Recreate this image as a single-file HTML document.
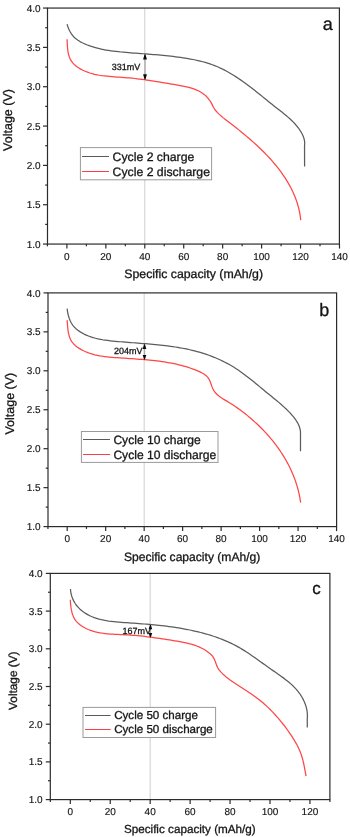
<!DOCTYPE html>
<html><head><meta charset="utf-8"><style>
html,body{margin:0;padding:0;background:#fff;}
svg text{stroke:#151515;stroke-width:0.3px;}
svg text.t{stroke-width:0.15px;}
svg{display:block;font-family:"Liberation Sans", sans-serif;-webkit-font-smoothing:antialiased;text-rendering:geometricPrecision;will-change:transform;}
</style></head><body>
<svg width="350" height="837" viewBox="0 0 350 837">
<rect width="350" height="837" fill="#fff"/>
<line x1="144.78" y1="8.06" x2="144.78" y2="244.06" stroke="#cfcfcf" stroke-width="1"/>
<path d="M67.02,24.18 L67.81,26.55 L68.75,28.90 L69.83,31.19 L71.09,33.36 L72.52,35.38 L74.15,37.21 L75.96,38.85 L77.93,40.30 L80.02,41.59 L82.22,42.75 L84.49,43.80 L86.80,44.76 L89.14,45.64 L91.49,46.44 L93.87,47.19 L96.27,47.86 L98.69,48.48 L101.12,49.04 L103.56,49.55 L106.02,50.02 L108.49,50.44 L110.96,50.81 L113.45,51.15 L115.95,51.46 L118.44,51.74 L120.95,52.00 L123.45,52.23 L125.96,52.44 L128.46,52.64 L130.97,52.84 L133.47,53.02 L135.96,53.20 L138.45,53.39 L140.94,53.57 L143.43,53.75 L145.91,53.93 L148.38,54.12 L150.86,54.31 L153.33,54.51 L155.80,54.72 L158.28,54.93 L160.75,55.15 L163.22,55.39 L165.69,55.63 L168.16,55.89 L170.63,56.16 L173.10,56.45 L175.57,56.76 L178.05,57.09 L180.53,57.43 L183.01,57.80 L185.49,58.18 L187.98,58.59 L190.46,59.03 L192.94,59.50 L195.42,60.00 L197.88,60.54 L200.33,61.12 L202.77,61.74 L205.19,62.41 L207.59,63.12 L209.96,63.89 L212.31,64.72 L214.62,65.60 L216.91,66.53 L219.17,67.52 L221.41,68.56 L223.62,69.65 L225.80,70.79 L227.97,71.97 L230.11,73.20 L232.23,74.46 L234.34,75.76 L236.42,77.10 L238.49,78.46 L240.55,79.86 L242.59,81.29 L244.62,82.75 L246.63,84.22 L248.64,85.72 L250.63,87.24 L252.62,88.78 L254.60,90.33 L256.58,91.89 L258.55,93.46 L260.51,95.04 L262.48,96.63 L264.44,98.22 L266.40,99.81 L268.37,101.40 L270.34,102.99 L272.31,104.57 L274.29,106.14 L276.27,107.70 L278.26,109.25 L280.24,110.80 L282.21,112.36 L284.17,113.92 L286.09,115.51 L287.99,117.12 L289.84,118.76 L291.64,120.45 L293.38,122.18 L295.06,123.97 L296.66,125.82 L298.18,127.74 L299.61,129.73 L300.95,131.81 L302.16,133.98 L303.20,136.23 L304.01,138.56 L304.54,140.97 L304.73,143.46 L304.53,146.02 L304.60,166.60" fill="none" stroke="#5c5c5c" stroke-width="1.25" stroke-linejoin="round" stroke-linecap="butt"/>
<path d="M67.10,39.20 L67.19,41.61 L67.29,44.12 L67.44,46.69 L67.67,49.28 L68.02,51.86 L68.54,54.37 L69.25,56.79 L70.21,59.06 L71.44,61.16 L72.92,63.08 L74.63,64.82 L76.51,66.41 L78.55,67.83 L80.70,69.12 L82.92,70.26 L85.19,71.29 L87.51,72.19 L89.85,72.98 L92.23,73.68 L94.64,74.28 L97.08,74.80 L99.54,75.25 L102.02,75.63 L104.52,75.95 L107.03,76.23 L109.55,76.46 L112.07,76.67 L114.60,76.86 L117.13,77.03 L119.66,77.20 L122.17,77.37 L124.68,77.56 L127.18,77.76 L129.66,77.99 L132.13,78.24 L134.59,78.50 L137.05,78.79 L139.50,79.09 L141.94,79.40 L144.38,79.73 L146.82,80.07 L149.26,80.43 L151.69,80.80 L154.13,81.18 L156.58,81.56 L159.03,81.96 L161.48,82.37 L163.95,82.78 L166.42,83.20 L168.90,83.62 L171.40,84.05 L173.91,84.49 L176.43,84.92 L178.97,85.36 L181.50,85.82 L184.03,86.32 L186.53,86.86 L189.01,87.47 L191.43,88.15 L193.81,88.93 L196.11,89.81 L198.34,90.80 L200.48,91.94 L202.52,93.21 L204.45,94.65 L206.25,96.27 L207.92,98.06 L209.45,100.03 L210.82,102.13 L212.03,104.35 L213.16,106.62 L214.41,108.77 L215.86,110.77 L217.49,112.62 L219.25,114.37 L221.12,116.03 L223.06,117.62 L225.04,119.17 L227.03,120.70 L229.00,122.23 L230.97,123.75 L232.92,125.28 L234.87,126.81 L236.80,128.34 L238.73,129.87 L240.65,131.42 L242.55,132.97 L244.45,134.54 L246.34,136.12 L248.22,137.71 L250.09,139.33 L251.96,140.96 L253.81,142.61 L255.66,144.29 L257.50,145.99 L259.33,147.71 L261.14,149.45 L262.94,151.22 L264.72,153.02 L266.48,154.83 L268.22,156.67 L269.94,158.53 L271.63,160.42 L273.29,162.33 L274.93,164.26 L276.53,166.21 L278.11,168.19 L279.64,170.19 L281.14,172.22 L282.61,174.27 L284.03,176.34 L285.41,178.43 L286.74,180.55 L288.03,182.69 L289.27,184.86 L290.46,187.05 L291.59,189.26 L292.68,191.49 L293.70,193.75 L294.67,196.03 L295.58,198.33 L296.42,200.66 L297.21,203.01 L297.92,205.38 L298.57,207.78 L299.15,210.20 L299.66,212.64 L300.09,215.11 L300.45,217.59 L300.73,220.11" fill="none" stroke="#ff4545" stroke-width="1.25" stroke-linejoin="round" stroke-linecap="butt"/>
<rect x="47.50" y="8.06" width="291.90" height="236.00" fill="none" stroke="#2b2b2b" stroke-width="1.2"/>
<line x1="43.00" y1="244.06" x2="47.50" y2="244.06" stroke="#2b2b2b" stroke-width="1.2"/>
<text x="40.60" y="247.66" text-anchor="end" font-size="10" fill="#151515" class="t">1.0</text>
<line x1="45.20" y1="224.39" x2="47.50" y2="224.39" stroke="#2b2b2b" stroke-width="1.2"/>
<line x1="43.00" y1="204.73" x2="47.50" y2="204.73" stroke="#2b2b2b" stroke-width="1.2"/>
<text x="40.60" y="208.33" text-anchor="end" font-size="10" fill="#151515" class="t">1.5</text>
<line x1="45.20" y1="185.06" x2="47.50" y2="185.06" stroke="#2b2b2b" stroke-width="1.2"/>
<line x1="43.00" y1="165.39" x2="47.50" y2="165.39" stroke="#2b2b2b" stroke-width="1.2"/>
<text x="40.60" y="168.99" text-anchor="end" font-size="10" fill="#151515" class="t">2.0</text>
<line x1="45.20" y1="145.73" x2="47.50" y2="145.73" stroke="#2b2b2b" stroke-width="1.2"/>
<line x1="43.00" y1="126.06" x2="47.50" y2="126.06" stroke="#2b2b2b" stroke-width="1.2"/>
<text x="40.60" y="129.66" text-anchor="end" font-size="10" fill="#151515" class="t">2.5</text>
<line x1="45.20" y1="106.39" x2="47.50" y2="106.39" stroke="#2b2b2b" stroke-width="1.2"/>
<line x1="43.00" y1="86.73" x2="47.50" y2="86.73" stroke="#2b2b2b" stroke-width="1.2"/>
<text x="40.60" y="90.33" text-anchor="end" font-size="10" fill="#151515" class="t">3.0</text>
<line x1="45.20" y1="67.06" x2="47.50" y2="67.06" stroke="#2b2b2b" stroke-width="1.2"/>
<line x1="43.00" y1="47.39" x2="47.50" y2="47.39" stroke="#2b2b2b" stroke-width="1.2"/>
<text x="40.60" y="50.99" text-anchor="end" font-size="10" fill="#151515" class="t">3.5</text>
<line x1="45.20" y1="27.73" x2="47.50" y2="27.73" stroke="#2b2b2b" stroke-width="1.2"/>
<line x1="43.00" y1="8.06" x2="47.50" y2="8.06" stroke="#2b2b2b" stroke-width="1.2"/>
<text x="40.60" y="11.66" text-anchor="end" font-size="10" fill="#151515" class="t">4.0</text>
<line x1="47.43" y1="244.06" x2="47.43" y2="246.36" stroke="#2b2b2b" stroke-width="1.2"/>
<line x1="66.90" y1="244.06" x2="66.90" y2="248.56" stroke="#2b2b2b" stroke-width="1.2"/>
<text x="66.90" y="260.00" text-anchor="middle" font-size="10" fill="#151515" class="t">0</text>
<line x1="86.37" y1="244.06" x2="86.37" y2="246.36" stroke="#2b2b2b" stroke-width="1.2"/>
<line x1="105.84" y1="244.06" x2="105.84" y2="248.56" stroke="#2b2b2b" stroke-width="1.2"/>
<text x="105.84" y="260.00" text-anchor="middle" font-size="10" fill="#151515" class="t">20</text>
<line x1="125.31" y1="244.06" x2="125.31" y2="246.36" stroke="#2b2b2b" stroke-width="1.2"/>
<line x1="144.78" y1="244.06" x2="144.78" y2="248.56" stroke="#2b2b2b" stroke-width="1.2"/>
<text x="144.78" y="260.00" text-anchor="middle" font-size="10" fill="#151515" class="t">40</text>
<line x1="164.25" y1="244.06" x2="164.25" y2="246.36" stroke="#2b2b2b" stroke-width="1.2"/>
<line x1="183.72" y1="244.06" x2="183.72" y2="248.56" stroke="#2b2b2b" stroke-width="1.2"/>
<text x="183.72" y="260.00" text-anchor="middle" font-size="10" fill="#151515" class="t">60</text>
<line x1="203.19" y1="244.06" x2="203.19" y2="246.36" stroke="#2b2b2b" stroke-width="1.2"/>
<line x1="222.66" y1="244.06" x2="222.66" y2="248.56" stroke="#2b2b2b" stroke-width="1.2"/>
<text x="222.66" y="260.00" text-anchor="middle" font-size="10" fill="#151515" class="t">80</text>
<line x1="242.13" y1="244.06" x2="242.13" y2="246.36" stroke="#2b2b2b" stroke-width="1.2"/>
<line x1="261.60" y1="244.06" x2="261.60" y2="248.56" stroke="#2b2b2b" stroke-width="1.2"/>
<text x="261.60" y="260.00" text-anchor="middle" font-size="10" fill="#151515" class="t">100</text>
<line x1="281.07" y1="244.06" x2="281.07" y2="246.36" stroke="#2b2b2b" stroke-width="1.2"/>
<line x1="300.54" y1="244.06" x2="300.54" y2="248.56" stroke="#2b2b2b" stroke-width="1.2"/>
<text x="300.54" y="260.00" text-anchor="middle" font-size="10" fill="#151515" class="t">120</text>
<line x1="320.01" y1="244.06" x2="320.01" y2="246.36" stroke="#2b2b2b" stroke-width="1.2"/>
<line x1="339.48" y1="244.06" x2="339.48" y2="248.56" stroke="#2b2b2b" stroke-width="1.2"/>
<text x="339.48" y="260.00" text-anchor="middle" font-size="10" fill="#151515" class="t">140</text>
<text x="124.30" y="278.40" font-size="12.3" fill="#151515">Specific capacity (mAh/g)</text>
<text transform="translate(12.40,120.00) rotate(-90)" text-anchor="middle" font-size="12.5" fill="#151515">Voltage (V)</text>
<text x="322.80" y="30.30" font-size="18" fill="#151515">a</text>
<rect x="80.40" y="147.60" width="131.20" height="32.20" fill="#fff" stroke="#9a9a9a" stroke-width="1"/>
<line x1="82.00" y1="156.50" x2="109.00" y2="156.50" stroke="#5a5a5a" stroke-width="1.0"/>
<line x1="82.00" y1="171.50" x2="109.00" y2="171.50" stroke="#ff3c48" stroke-width="1.0"/>
<text x="112.60" y="161.00" font-size="12.25" fill="#151515">Cycle 2 charge</text>
<text x="112.60" y="176.00" font-size="12.25" fill="#151515">Cycle 2 discharge</text>
<line x1="145.00" y1="59.00" x2="145.00" y2="74.80" stroke="#a8a8a8" stroke-width="1.3"/>
<path d="M144.55,54.20 L145.45,54.20 L146.90,59.50 L143.10,59.50 Z" fill="#0a0a0a"/>
<path d="M144.55,79.60 L145.45,79.60 L146.90,74.30 L143.10,74.30 Z" fill="#0a0a0a"/>
<text x="111.80" y="69.90" font-size="9" fill="#151515">331mV</text>
<line x1="144.16" y1="292.90" x2="144.16" y2="526.60" stroke="#cfcfcf" stroke-width="1"/>
<path d="M67.13,308.58 L67.46,311.04 L67.91,313.53 L68.51,316.00 L69.27,318.42 L70.20,320.76 L71.33,322.98 L72.66,325.05 L74.21,326.94 L75.95,328.66 L77.85,330.22 L79.86,331.63 L81.95,332.91 L84.10,334.06 L86.30,335.10 L88.55,336.03 L90.85,336.86 L93.18,337.59 L95.55,338.24 L97.95,338.81 L100.39,339.31 L102.84,339.76 L105.32,340.14 L107.81,340.48 L110.32,340.78 L112.83,341.05 L115.35,341.30 L117.87,341.53 L120.39,341.75 L122.91,341.96 L125.43,342.16 L127.94,342.36 L130.45,342.56 L132.96,342.75 L135.47,342.94 L137.98,343.13 L140.48,343.32 L142.98,343.51 L145.48,343.71 L147.98,343.92 L150.47,344.13 L152.96,344.35 L155.44,344.59 L157.92,344.83 L160.40,345.09 L162.88,345.36 L165.35,345.65 L167.81,345.96 L170.27,346.28 L172.73,346.63 L175.18,347.00 L177.62,347.39 L180.07,347.81 L182.50,348.25 L184.93,348.72 L187.36,349.22 L189.78,349.75 L192.19,350.32 L194.60,350.92 L197.00,351.55 L199.39,352.22 L201.78,352.93 L204.16,353.67 L206.53,354.46 L208.88,355.28 L211.23,356.15 L213.56,357.05 L215.87,358.00 L218.17,358.98 L220.44,360.01 L222.70,361.08 L224.94,362.20 L227.15,363.35 L229.33,364.56 L231.50,365.80 L233.63,367.09 L235.74,368.43 L237.82,369.80 L239.88,371.22 L241.92,372.66 L243.94,374.14 L245.94,375.64 L247.92,377.17 L249.89,378.71 L251.85,380.27 L253.80,381.85 L255.74,383.44 L257.67,385.03 L259.59,386.63 L261.51,388.22 L263.43,389.82 L265.35,391.41 L267.27,392.99 L269.20,394.55 L271.12,396.11 L273.04,397.67 L274.96,399.23 L276.87,400.80 L278.77,402.39 L280.66,404.01 L282.53,405.66 L284.38,407.34 L286.21,409.07 L288.01,410.84 L289.77,412.67 L291.47,414.54 L293.11,416.46 L294.68,418.44 L296.14,420.48 L297.45,422.58 L298.58,424.76 L299.49,427.02 L300.14,429.38 L300.49,431.84 L300.49,434.42 L300.50,451.20" fill="none" stroke="#5c5c5c" stroke-width="1.25" stroke-linejoin="round" stroke-linecap="butt"/>
<path d="M67.11,320.10 L67.30,322.48 L67.48,324.96 L67.70,327.50 L67.99,330.05 L68.39,332.59 L68.94,335.08 L69.69,337.46 L70.66,339.72 L71.91,341.81 L73.44,343.70 L75.20,345.42 L77.13,346.97 L79.19,348.36 L81.30,349.62 L83.47,350.76 L85.68,351.77 L87.94,352.67 L90.23,353.47 L92.56,354.17 L94.93,354.79 L97.32,355.32 L99.74,355.79 L102.18,356.19 L104.64,356.53 L107.12,356.83 L109.61,357.09 L112.11,357.32 L114.62,357.52 L117.13,357.71 L119.64,357.89 L122.15,358.06 L124.66,358.23 L127.16,358.40 L129.67,358.56 L132.17,358.73 L134.67,358.90 L137.17,359.08 L139.67,359.27 L142.16,359.46 L144.65,359.67 L147.13,359.89 L149.61,360.12 L152.09,360.37 L154.56,360.64 L157.02,360.93 L159.48,361.24 L161.93,361.58 L164.37,361.94 L166.81,362.33 L169.24,362.76 L171.66,363.21 L174.08,363.70 L176.48,364.22 L178.88,364.79 L181.26,365.39 L183.64,366.03 L186.01,366.72 L188.37,367.45 L190.71,368.23 L193.05,369.06 L195.37,369.95 L197.68,370.88 L199.97,371.88 L202.18,372.98 L204.27,374.23 L206.15,375.67 L207.79,377.37 L209.11,379.35 L210.15,381.58 L211.04,383.96 L211.89,386.38 L212.84,388.72 L214.00,390.87 L215.42,392.79 L217.07,394.51 L218.90,396.07 L220.87,397.50 L222.94,398.84 L225.08,400.12 L227.24,401.39 L229.37,402.67 L231.47,403.99 L233.53,405.34 L235.57,406.72 L237.58,408.13 L239.59,409.57 L241.58,411.05 L243.55,412.54 L245.51,414.07 L247.44,415.63 L249.36,417.21 L251.26,418.82 L253.14,420.46 L255.00,422.13 L256.83,423.82 L258.64,425.54 L260.43,427.29 L262.19,429.06 L263.92,430.85 L265.63,432.68 L267.31,434.52 L268.96,436.40 L270.59,438.29 L272.18,440.21 L273.74,442.16 L275.27,444.13 L276.76,446.12 L278.22,448.13 L279.64,450.17 L281.03,452.23 L282.38,454.31 L283.70,456.41 L284.97,458.54 L286.21,460.68 L287.40,462.85 L288.56,465.04 L289.67,467.24 L290.74,469.47 L291.76,471.72 L292.74,473.99 L293.67,476.27 L294.56,478.58 L295.40,480.90 L296.18,483.25 L296.92,485.61 L297.61,487.99 L298.25,490.38 L298.84,492.79 L299.37,495.22 L299.85,497.67 L300.27,500.13 L300.64,502.61" fill="none" stroke="#ff4545" stroke-width="1.25" stroke-linejoin="round" stroke-linecap="butt"/>
<rect x="48.00" y="292.90" width="288.60" height="233.70" fill="none" stroke="#2b2b2b" stroke-width="1.2"/>
<line x1="43.50" y1="526.60" x2="48.00" y2="526.60" stroke="#2b2b2b" stroke-width="1.2"/>
<text x="40.60" y="530.20" text-anchor="end" font-size="10" fill="#151515" class="t">1.0</text>
<line x1="45.70" y1="507.12" x2="48.00" y2="507.12" stroke="#2b2b2b" stroke-width="1.2"/>
<line x1="43.50" y1="487.65" x2="48.00" y2="487.65" stroke="#2b2b2b" stroke-width="1.2"/>
<text x="40.60" y="491.25" text-anchor="end" font-size="10" fill="#151515" class="t">1.5</text>
<line x1="45.70" y1="468.18" x2="48.00" y2="468.18" stroke="#2b2b2b" stroke-width="1.2"/>
<line x1="43.50" y1="448.70" x2="48.00" y2="448.70" stroke="#2b2b2b" stroke-width="1.2"/>
<text x="40.60" y="452.30" text-anchor="end" font-size="10" fill="#151515" class="t">2.0</text>
<line x1="45.70" y1="429.23" x2="48.00" y2="429.23" stroke="#2b2b2b" stroke-width="1.2"/>
<line x1="43.50" y1="409.75" x2="48.00" y2="409.75" stroke="#2b2b2b" stroke-width="1.2"/>
<text x="40.60" y="413.35" text-anchor="end" font-size="10" fill="#151515" class="t">2.5</text>
<line x1="45.70" y1="390.27" x2="48.00" y2="390.27" stroke="#2b2b2b" stroke-width="1.2"/>
<line x1="43.50" y1="370.80" x2="48.00" y2="370.80" stroke="#2b2b2b" stroke-width="1.2"/>
<text x="40.60" y="374.40" text-anchor="end" font-size="10" fill="#151515" class="t">3.0</text>
<line x1="45.70" y1="351.33" x2="48.00" y2="351.33" stroke="#2b2b2b" stroke-width="1.2"/>
<line x1="43.50" y1="331.85" x2="48.00" y2="331.85" stroke="#2b2b2b" stroke-width="1.2"/>
<text x="40.60" y="335.45" text-anchor="end" font-size="10" fill="#151515" class="t">3.5</text>
<line x1="45.70" y1="312.38" x2="48.00" y2="312.38" stroke="#2b2b2b" stroke-width="1.2"/>
<line x1="43.50" y1="292.90" x2="48.00" y2="292.90" stroke="#2b2b2b" stroke-width="1.2"/>
<text x="40.60" y="296.50" text-anchor="end" font-size="10" fill="#151515" class="t">4.0</text>
<line x1="47.96" y1="526.60" x2="47.96" y2="528.90" stroke="#2b2b2b" stroke-width="1.2"/>
<line x1="67.20" y1="526.60" x2="67.20" y2="531.10" stroke="#2b2b2b" stroke-width="1.2"/>
<text x="67.20" y="541.60" text-anchor="middle" font-size="10" fill="#151515" class="t">0</text>
<line x1="86.44" y1="526.60" x2="86.44" y2="528.90" stroke="#2b2b2b" stroke-width="1.2"/>
<line x1="105.68" y1="526.60" x2="105.68" y2="531.10" stroke="#2b2b2b" stroke-width="1.2"/>
<text x="105.68" y="541.60" text-anchor="middle" font-size="10" fill="#151515" class="t">20</text>
<line x1="124.92" y1="526.60" x2="124.92" y2="528.90" stroke="#2b2b2b" stroke-width="1.2"/>
<line x1="144.16" y1="526.60" x2="144.16" y2="531.10" stroke="#2b2b2b" stroke-width="1.2"/>
<text x="144.16" y="541.60" text-anchor="middle" font-size="10" fill="#151515" class="t">40</text>
<line x1="163.40" y1="526.60" x2="163.40" y2="528.90" stroke="#2b2b2b" stroke-width="1.2"/>
<line x1="182.64" y1="526.60" x2="182.64" y2="531.10" stroke="#2b2b2b" stroke-width="1.2"/>
<text x="182.64" y="541.60" text-anchor="middle" font-size="10" fill="#151515" class="t">60</text>
<line x1="201.88" y1="526.60" x2="201.88" y2="528.90" stroke="#2b2b2b" stroke-width="1.2"/>
<line x1="221.12" y1="526.60" x2="221.12" y2="531.10" stroke="#2b2b2b" stroke-width="1.2"/>
<text x="221.12" y="541.60" text-anchor="middle" font-size="10" fill="#151515" class="t">80</text>
<line x1="240.36" y1="526.60" x2="240.36" y2="528.90" stroke="#2b2b2b" stroke-width="1.2"/>
<line x1="259.60" y1="526.60" x2="259.60" y2="531.10" stroke="#2b2b2b" stroke-width="1.2"/>
<text x="259.60" y="541.60" text-anchor="middle" font-size="10" fill="#151515" class="t">100</text>
<line x1="278.84" y1="526.60" x2="278.84" y2="528.90" stroke="#2b2b2b" stroke-width="1.2"/>
<line x1="298.08" y1="526.60" x2="298.08" y2="531.10" stroke="#2b2b2b" stroke-width="1.2"/>
<text x="298.08" y="541.60" text-anchor="middle" font-size="10" fill="#151515" class="t">120</text>
<line x1="317.32" y1="526.60" x2="317.32" y2="528.90" stroke="#2b2b2b" stroke-width="1.2"/>
<line x1="336.56" y1="526.60" x2="336.56" y2="531.10" stroke="#2b2b2b" stroke-width="1.2"/>
<text x="336.56" y="541.60" text-anchor="middle" font-size="10" fill="#151515" class="t">140</text>
<text x="123.90" y="560.60" font-size="12.1" fill="#151515">Specific capacity (mAh/g)</text>
<text transform="translate(14.40,403.70) rotate(-90)" text-anchor="middle" font-size="12.5" fill="#151515">Voltage (V)</text>
<text x="319.30" y="316.20" font-size="18" fill="#151515">b</text>
<rect x="81.40" y="431.50" width="136.60" height="30.90" fill="#fff" stroke="#9a9a9a" stroke-width="1"/>
<line x1="83.00" y1="439.50" x2="110.00" y2="439.50" stroke="#5a5a5a" stroke-width="1.0"/>
<line x1="83.00" y1="454.50" x2="110.00" y2="454.50" stroke="#ff3c48" stroke-width="1.0"/>
<text x="113.40" y="443.80" font-size="12.1" fill="#151515">Cycle 10 charge</text>
<text x="113.40" y="458.80" font-size="12.1" fill="#151515">Cycle 10 discharge</text>
<line x1="144.50" y1="348.40" x2="144.50" y2="355.50" stroke="#a8a8a8" stroke-width="1.3"/>
<path d="M144.05,344.30 L144.95,344.30 L146.30,348.90 L142.70,348.90 Z" fill="#0a0a0a"/>
<path d="M144.05,359.60 L144.95,359.60 L146.30,355.00 L142.70,355.00 Z" fill="#0a0a0a"/>
<text x="114.00" y="354.00" font-size="9" fill="#151515">204mV</text>
<line x1="150.18" y1="573.40" x2="150.18" y2="799.60" stroke="#cfcfcf" stroke-width="1"/>
<path d="M70.45,589.05 L70.70,591.61 L71.17,594.11 L71.85,596.53 L72.73,598.87 L73.80,601.12 L75.05,603.25 L76.46,605.27 L78.04,607.16 L79.75,608.91 L81.59,610.54 L83.54,612.04 L85.57,613.41 L87.68,614.65 L89.85,615.76 L92.07,616.75 L94.33,617.63 L96.64,618.41 L99.00,619.10 L101.39,619.70 L103.81,620.21 L106.26,620.66 L108.74,621.05 L111.24,621.38 L113.75,621.67 L116.28,621.92 L118.82,622.14 L121.37,622.33 L123.91,622.52 L126.45,622.69 L128.99,622.87 L131.53,623.05 L134.05,623.23 L136.58,623.42 L139.10,623.61 L141.61,623.80 L144.12,624.00 L146.62,624.21 L149.12,624.42 L151.62,624.65 L154.11,624.88 L156.59,625.13 L159.08,625.38 L161.55,625.65 L164.03,625.94 L166.50,626.24 L168.96,626.55 L171.42,626.88 L173.88,627.23 L176.33,627.60 L178.78,627.98 L181.23,628.39 L183.67,628.82 L186.11,629.27 L188.54,629.74 L190.97,630.24 L193.40,630.77 L195.82,631.32 L198.24,631.89 L200.66,632.50 L203.07,633.13 L205.48,633.80 L207.89,634.49 L210.29,635.22 L212.68,635.98 L215.07,636.78 L217.45,637.61 L219.81,638.47 L222.16,639.38 L224.49,640.32 L226.80,641.30 L229.08,642.33 L231.35,643.39 L233.59,644.50 L235.80,645.65 L237.98,646.84 L240.13,648.08 L242.26,649.35 L244.37,650.65 L246.46,651.99 L248.53,653.35 L250.59,654.74 L252.64,656.15 L254.68,657.57 L256.71,659.01 L258.74,660.46 L260.77,661.92 L262.80,663.38 L264.84,664.84 L266.88,666.30 L268.93,667.75 L270.99,669.20 L273.06,670.63 L275.14,672.06 L277.22,673.49 L279.29,674.94 L281.34,676.39 L283.37,677.87 L285.37,679.38 L287.34,680.92 L289.25,682.51 L291.12,684.14 L292.93,685.83 L294.68,687.58 L296.35,689.40 L297.94,691.30 L299.45,693.27 L300.86,695.33 L302.17,697.46 L303.35,699.66 L304.41,701.92 L305.33,704.24 L306.09,706.61 L306.69,709.03 L307.12,711.48 L307.36,713.97 L307.41,716.49 L307.24,719.02 L307.30,727.50" fill="none" stroke="#5c5c5c" stroke-width="1.25" stroke-linejoin="round" stroke-linecap="butt"/>
<path d="M70.30,599.70 L70.45,602.12 L70.66,604.62 L70.95,607.16 L71.35,609.70 L71.90,612.20 L72.62,614.63 L73.55,616.95 L74.71,619.11 L76.13,621.10 L77.77,622.90 L79.62,624.54 L81.63,626.01 L83.76,627.32 L85.99,628.48 L88.28,629.50 L90.60,630.40 L92.96,631.17 L95.35,631.83 L97.77,632.38 L100.21,632.85 L102.67,633.24 L105.16,633.55 L107.66,633.81 L110.16,634.02 L112.68,634.18 L115.21,634.32 L117.73,634.44 L120.25,634.55 L122.77,634.66 L125.28,634.78 L127.78,634.92 L130.27,635.08 L132.74,635.27 L135.21,635.48 L137.67,635.70 L140.13,635.95 L142.58,636.21 L145.03,636.49 L147.47,636.79 L149.92,637.10 L152.36,637.42 L154.81,637.76 L157.26,638.10 L159.72,638.46 L162.18,638.83 L164.65,639.21 L167.13,639.59 L169.62,639.98 L172.12,640.38 L174.63,640.78 L177.15,641.20 L179.67,641.64 L182.18,642.11 L184.68,642.61 L187.16,643.17 L189.61,643.77 L192.03,644.45 L194.41,645.19 L196.74,646.02 L199.02,646.93 L201.24,647.95 L203.40,649.06 L205.48,650.30 L207.49,651.65 L209.41,653.14 L211.22,654.77 L212.82,656.60 L214.09,658.67 L215.08,660.92 L215.89,663.28 L216.72,665.61 L217.77,667.79 L219.07,669.81 L220.56,671.68 L222.23,673.44 L224.02,675.10 L225.90,676.68 L227.84,678.21 L229.82,679.70 L231.84,681.15 L233.89,682.57 L235.96,683.96 L238.06,685.34 L240.16,686.71 L242.28,688.06 L244.39,689.42 L246.50,690.78 L248.61,692.16 L250.70,693.55 L252.76,694.97 L254.80,696.42 L256.81,697.91 L258.79,699.43 L260.73,700.99 L262.64,702.59 L264.52,704.22 L266.36,705.88 L268.18,707.59 L269.96,709.32 L271.71,711.08 L273.43,712.88 L275.12,714.70 L276.78,716.56 L278.42,718.44 L280.02,720.34 L281.60,722.28 L283.15,724.24 L284.68,726.22 L286.18,728.22 L287.65,730.25 L289.10,732.30 L290.52,734.36 L291.91,736.45 L293.27,738.56 L294.58,740.70 L295.83,742.86 L297.03,745.05 L298.16,747.27 L299.21,749.52 L300.19,751.81 L301.07,754.13 L301.86,756.48 L302.56,758.88 L303.16,761.30 L303.70,763.75 L304.20,766.20 L304.67,768.67 L305.13,771.13 L305.60,773.57 L306.10,776.00" fill="none" stroke="#ff4545" stroke-width="1.25" stroke-linejoin="round" stroke-linecap="butt"/>
<rect x="50.30" y="573.40" width="279.60" height="226.20" fill="none" stroke="#2b2b2b" stroke-width="1.2"/>
<line x1="45.80" y1="799.60" x2="50.30" y2="799.60" stroke="#2b2b2b" stroke-width="1.2"/>
<text x="42.60" y="803.10" text-anchor="end" font-size="10" fill="#151515" class="t">1.0</text>
<line x1="48.00" y1="780.75" x2="50.30" y2="780.75" stroke="#2b2b2b" stroke-width="1.2"/>
<line x1="45.80" y1="761.90" x2="50.30" y2="761.90" stroke="#2b2b2b" stroke-width="1.2"/>
<text x="42.60" y="765.40" text-anchor="end" font-size="10" fill="#151515" class="t">1.5</text>
<line x1="48.00" y1="743.05" x2="50.30" y2="743.05" stroke="#2b2b2b" stroke-width="1.2"/>
<line x1="45.80" y1="724.20" x2="50.30" y2="724.20" stroke="#2b2b2b" stroke-width="1.2"/>
<text x="42.60" y="727.70" text-anchor="end" font-size="10" fill="#151515" class="t">2.0</text>
<line x1="48.00" y1="705.35" x2="50.30" y2="705.35" stroke="#2b2b2b" stroke-width="1.2"/>
<line x1="45.80" y1="686.50" x2="50.30" y2="686.50" stroke="#2b2b2b" stroke-width="1.2"/>
<text x="42.60" y="690.00" text-anchor="end" font-size="10" fill="#151515" class="t">2.5</text>
<line x1="48.00" y1="667.65" x2="50.30" y2="667.65" stroke="#2b2b2b" stroke-width="1.2"/>
<line x1="45.80" y1="648.80" x2="50.30" y2="648.80" stroke="#2b2b2b" stroke-width="1.2"/>
<text x="42.60" y="652.30" text-anchor="end" font-size="10" fill="#151515" class="t">3.0</text>
<line x1="48.00" y1="629.95" x2="50.30" y2="629.95" stroke="#2b2b2b" stroke-width="1.2"/>
<line x1="45.80" y1="611.10" x2="50.30" y2="611.10" stroke="#2b2b2b" stroke-width="1.2"/>
<text x="42.60" y="614.60" text-anchor="end" font-size="10" fill="#151515" class="t">3.5</text>
<line x1="48.00" y1="592.25" x2="50.30" y2="592.25" stroke="#2b2b2b" stroke-width="1.2"/>
<line x1="45.80" y1="573.40" x2="50.30" y2="573.40" stroke="#2b2b2b" stroke-width="1.2"/>
<text x="42.60" y="576.90" text-anchor="end" font-size="10" fill="#151515" class="t">4.0</text>
<line x1="50.33" y1="799.60" x2="50.33" y2="801.90" stroke="#2b2b2b" stroke-width="1.2"/>
<line x1="70.30" y1="799.60" x2="70.30" y2="804.10" stroke="#2b2b2b" stroke-width="1.2"/>
<text x="70.30" y="815.00" text-anchor="middle" font-size="10" fill="#151515" class="t">0</text>
<line x1="90.27" y1="799.60" x2="90.27" y2="801.90" stroke="#2b2b2b" stroke-width="1.2"/>
<line x1="110.24" y1="799.60" x2="110.24" y2="804.10" stroke="#2b2b2b" stroke-width="1.2"/>
<text x="110.24" y="815.00" text-anchor="middle" font-size="10" fill="#151515" class="t">20</text>
<line x1="130.21" y1="799.60" x2="130.21" y2="801.90" stroke="#2b2b2b" stroke-width="1.2"/>
<line x1="150.18" y1="799.60" x2="150.18" y2="804.10" stroke="#2b2b2b" stroke-width="1.2"/>
<text x="150.18" y="815.00" text-anchor="middle" font-size="10" fill="#151515" class="t">40</text>
<line x1="170.15" y1="799.60" x2="170.15" y2="801.90" stroke="#2b2b2b" stroke-width="1.2"/>
<line x1="190.12" y1="799.60" x2="190.12" y2="804.10" stroke="#2b2b2b" stroke-width="1.2"/>
<text x="190.12" y="815.00" text-anchor="middle" font-size="10" fill="#151515" class="t">60</text>
<line x1="210.09" y1="799.60" x2="210.09" y2="801.90" stroke="#2b2b2b" stroke-width="1.2"/>
<line x1="230.06" y1="799.60" x2="230.06" y2="804.10" stroke="#2b2b2b" stroke-width="1.2"/>
<text x="230.06" y="815.00" text-anchor="middle" font-size="10" fill="#151515" class="t">80</text>
<line x1="250.03" y1="799.60" x2="250.03" y2="801.90" stroke="#2b2b2b" stroke-width="1.2"/>
<line x1="270.00" y1="799.60" x2="270.00" y2="804.10" stroke="#2b2b2b" stroke-width="1.2"/>
<text x="270.00" y="815.00" text-anchor="middle" font-size="10" fill="#151515" class="t">100</text>
<line x1="289.97" y1="799.60" x2="289.97" y2="801.90" stroke="#2b2b2b" stroke-width="1.2"/>
<line x1="309.94" y1="799.60" x2="309.94" y2="804.10" stroke="#2b2b2b" stroke-width="1.2"/>
<text x="309.94" y="815.00" text-anchor="middle" font-size="10" fill="#151515" class="t">120</text>
<line x1="329.91" y1="799.60" x2="329.91" y2="801.90" stroke="#2b2b2b" stroke-width="1.2"/>
<text x="123.90" y="833.00" font-size="11.7" fill="#151515">Specific capacity (mAh/g)</text>
<text transform="translate(17.10,680.70) rotate(-90)" text-anchor="middle" font-size="11.8" fill="#151515">Voltage (V)</text>
<text x="312.20" y="594.00" font-size="17" fill="#151515">c</text>
<rect x="83.00" y="707.40" width="132.60" height="30.10" fill="#fff" stroke="#9a9a9a" stroke-width="1"/>
<line x1="85.00" y1="715.50" x2="110.60" y2="715.50" stroke="#5a5a5a" stroke-width="1.0"/>
<line x1="85.00" y1="729.50" x2="110.60" y2="729.50" stroke="#ff3c48" stroke-width="1.0"/>
<text x="114.20" y="719.40" font-size="11.6" fill="#151515">Cycle 50 charge</text>
<text x="114.20" y="733.40" font-size="11.6" fill="#151515">Cycle 50 discharge</text>
<line x1="150.40" y1="628.80" x2="150.40" y2="633.50" stroke="#a8a8a8" stroke-width="1.3"/>
<path d="M149.95,625.00 L150.85,625.00 L152.20,629.30 L148.60,629.30 Z" fill="#0a0a0a"/>
<path d="M149.95,637.30 L150.85,637.30 L152.20,633.00 L148.60,633.00 Z" fill="#0a0a0a"/>
<text x="122.50" y="634.00" font-size="9" fill="#151515">167mV</text>
</svg>
</body></html>
